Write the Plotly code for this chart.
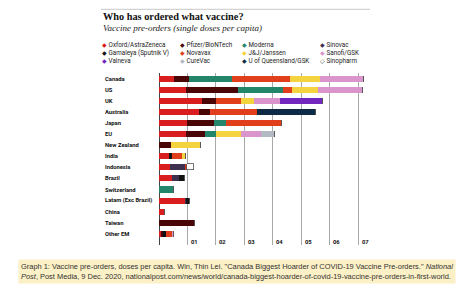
import plotly.graph_objects as go

# ---------------- data ----------------
countries = ["Canada", "US", "UK", "Australia", "Japan", "EU", "New Zealand", "India",
             "Indonesia", "Brazil", "Switzerland", "Latam (Exc Brazil)", "China", "Taiwan", "Other EM"]

oxford    = [0.52, 0.94, 1.52, 1.40, 0.97, 0.94, 0.00, 0.38, 0.38, 0.47, 0.00, 0.92, 0.20, 0.00, 0.09]
pfizer    = [0.53, 1.85, 0.47, 0.40, 0.96, 0.67, 0.41, 0.00, 0.00, 0.00, 0.00, 0.00, 0.00, 1.28, 0.05]
moderna   = [1.52, 1.56, 0.00, 0.00, 0.41, 0.39, 0.00, 0.00, 0.00, 0.00, 0.52, 0.00, 0.00, 0.00, 0.00]
sinovac   = [0.00, 0.00, 0.00, 0.00, 0.00, 0.00, 0.00, 0.00, 0.53, 0.23, 0.00, 0.03, 0.00, 0.00, 0.00]
gamaleya  = [0.00, 0.00, 0.00, 0.00, 0.00, 0.00, 0.00, 0.07, 0.00, 0.23, 0.00, 0.14, 0.00, 0.00, 0.09]
novavax   = [2.03, 0.33, 0.89, 1.64, 1.99, 0.00, 0.00, 0.36, 0.09, 0.00, 0.00, 0.00, 0.00, 0.00, 0.26]
jj        = [1.06, 0.93, 0.47, 0.00, 0.00, 0.89, 1.06, 0.15, 0.00, 0.00, 0.00, 0.00, 0.00, 0.00, 0.00]
sanofi    = [1.56, 1.55, 0.90, 0.00, 0.00, 0.70, 0.00, 0.00, 0.00, 0.00, 0.00, 0.00, 0.00, 0.00, 0.04]
valneva   = [0.00, 0.00, 1.52, 0.00, 0.00, 0.00, 0.00, 0.00, 0.00, 0.00, 0.00, 0.00, 0.00, 0.00, 0.00]
curevac   = [0.00, 0.00, 0.00, 0.00, 0.00, 0.49, 0.00, 0.00, 0.00, 0.00, 0.00, 0.00, 0.00, 0.00, 0.00]
uq        = [0.00, 0.00, 0.00, 2.07, 0.00, 0.00, 0.00, 0.00, 0.00, 0.00, 0.00, 0.00, 0.00, 0.00, 0.00]
sinopharm = [0.00, 0.00, 0.00, 0.00, 0.00, 0.00, 0.00, 0.00, 0.23, 0.00, 0.00, 0.00, 0.00, 0.00, 0.00]

tick_vals = [1, 2, 3, 4, 5, 6, 7]
tick_text = ["01", "02", "03", "04", "05", "06", "07"]

# stacking order (left to right in bars)
series = [
    ("Oxford/AstraZeneca", oxford, "#d81e1e"),
    ("Pfizer/BioNTech", pfizer, "#4a0606"),
    ("Moderna", moderna, "#23856a"),
    ("Sinovac", sinovac, "#3e3150"),
    ("Gamaleya (Sputnik V)", gamaleya, "#121212"),
    ("Novavax", novavax, "#e13f1b"),
    ("J&J/Janssen", jj, "#f3d33e"),
    ("Sanofi/GSK", sanofi, "#da95cc"),
    ("Valneva", valneva, "#7327bf"),
    ("CureVac", curevac, "#b3bac4"),
    ("U of Queensland/GSK", uq, "#0f2a44"),
    ("Sinopharm", sinopharm, "#ffffff"),
]

# legend layout order (rows of 4)
legend_order = [
    "Oxford/AstraZeneca", "Pfizer/BioNTech", "Moderna", "Sinovac",
    "Gamaleya (Sputnik V)", "Novavax", "J&J/Janssen", "Sanofi/GSK",
    "Valneva", "CureVac", "U of Queensland/GSK", "Sinopharm",
]

# ---------------- layout geometry (pixels) ----------------
W, H = 474, 293
L, R, T, B = 159, 370, 73, 245   # plot area edges
pw, ph = R - L, B - T
unit = 28.43                      # px per dose

def px_x(px):
    return (px - L) / pw

def px_y(py):
    return (B - py) / ph

fig = go.Figure()
for name, vals, col in series:
    line = dict(width=0.8, color="#555555") if name == "Sinopharm" else dict(width=0)
    fig.add_trace(go.Bar(
        y=countries, x=vals, name=name, orientation="h",
        marker=dict(color=col, line=line), width=0.55,
        showlegend=False, hoverinfo="skip",
    ))

annotations = []
shapes = []

# title + subtitle
annotations.append(dict(text="<b>Who has ordered what vaccine?</b>", xref="paper", yref="paper",
                        x=px_x(101), y=px_y(16.5), xanchor="left", yanchor="middle", showarrow=False,
                        font=dict(family="Liberation Serif", size=10.3, color="#111")))
annotations.append(dict(text="<i>Vaccine pre-orders (single doses per capita)</i>", xref="paper", yref="paper",
                        x=px_x(101), y=px_y(27.8), xanchor="left", yanchor="middle", showarrow=False,
                        font=dict(family="Liberation Serif", size=9.0, color="#222")))
shapes.append(dict(type="line", xref="paper", yref="paper", x0=px_x(101), x1=px_x(370),
                   y0=px_y(9.3), y1=px_y(9.3), line=dict(color="#c8c8c8", width=1)))

# legend (diamond glyphs + labels)
col_x = [103, 181, 243, 321]
row_y = [44.7, 53.2, 61.4]
colors = {n: c for n, _, c in series}
for i, name in enumerate(legend_order):
    c = colors[name]
    if name == "Sinopharm":
        glyph = '<span style="color:#222">◇</span>'
    else:
        glyph = '<span style="color:%s">◆</span>' % c
    annotations.append(dict(text=glyph + " " + name.replace("&", "&amp;"), xref="paper", yref="paper",
                            x=px_x(col_x[i % 4] - 3), y=px_y(row_y[i // 4]), xanchor="left", yanchor="middle",
                            showarrow=False, font=dict(family="Roboto", size=6.3, color="#222")))

# row labels
for c in countries:
    annotations.append(dict(text="<b>%s</b>" % c, xref="paper", yref="y", x=px_x(102.5), y=c,
                            xanchor="left", yanchor="middle", showarrow=False,
                            font=dict(family="Roboto", size=5.8, color="#111")))

# x tick labels
for v, t in zip(tick_vals, tick_text):
    annotations.append(dict(text="<b>%s</b>" % t, xref="x", yref="paper", x=v, y=px_y(242),
                            xanchor="left", yanchor="middle", xshift=1.5, showarrow=False,
                            font=dict(family="Roboto", size=5.8, color="#111")))

# caption
caption = ('Graph 1: Vaccine pre-orders, doses per capita. Win, Thin Lei. "Canada Biggest Hoarder of '
           'COVID-19 Vaccine Pre-orders." <i>National</i><br><i>Post</i>, Post Media, 9 Dec. 2020, '
           'nationalpost.com/news/world/canada-biggest-hoarder-of-covid-19-vaccine-pre-orders-in-first-world.')
annotations.append(dict(text=caption, xref="paper", yref="paper", x=px_x(18), y=px_y(271),
                        xanchor="left", yanchor="middle", align="left", showarrow=False,
                        bgcolor="#fcf0c6", borderpad=2,
                        font=dict(family="Liberation Sans", size=7.45, color="#333")))

fig.update_layout(
    width=W, height=H,
    margin=dict(l=L, r=W - R, t=T, b=H - B, pad=0),
    barmode="stack",
    bargap=0,
    plot_bgcolor="white", paper_bgcolor="white",
    annotations=annotations, shapes=shapes,
    showlegend=False,
    xaxis=dict(range=[0, pw / unit], tickvals=tick_vals, showticklabels=False,
               showgrid=True, gridcolor="#a8a8a8", gridwidth=1,
               zeroline=True, zerolinecolor="#444444", zerolinewidth=1, showline=False, fixedrange=True),
    yaxis=dict(categoryorder="array", categoryarray=countries, range=[15.0, -0.5],
               showticklabels=False, showgrid=False, zeroline=False, showline=False, fixedrange=True),
)

fig.write_html("out.html", config={"displayModeBar": False})
